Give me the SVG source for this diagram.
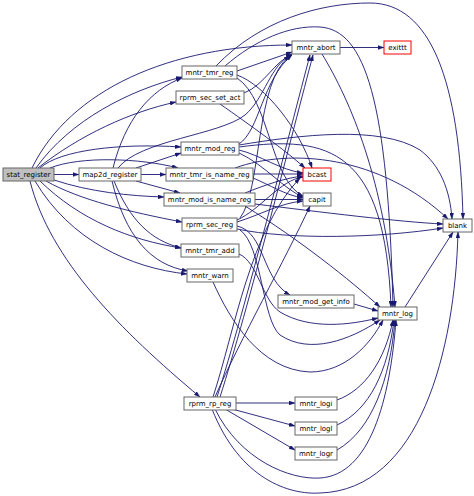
<svg xmlns="http://www.w3.org/2000/svg" width="474" height="496" viewBox="0 0 474 496">
<style>
.n rect{fill:#fff;stroke:#666;stroke-width:1}
.n.r rect{stroke:#ff0000}
.n.g rect{fill:#bfbfbf}
.n text{font-family:"DejaVu Sans","Liberation Sans",sans-serif;font-size:7px;text-anchor:middle;fill:#000}
.e path{fill:none;stroke:#191970;stroke-width:0.9;marker-end:url(#ah)}
</style>
<defs>
<marker id="ah" viewBox="0 0 10 7" refX="10" refY="3.5" markerWidth="6" markerHeight="4.2" markerUnits="userSpaceOnUse" orient="auto">
<path d="M0,0 L10,3.5 L0,7 z" fill="#191970" stroke="#191970" stroke-width="0.5"/>
</marker>
</defs>
<rect width="474" height="496" fill="#fff"/>
<g id="edges" class="e">
<path d="M54,174.5 L79,174.5"/>
<path d="M32,168 C70,90 170,45 292,45"/>
<path d="M36,168 C70,120 130,90 182,77"/>
<path d="M38,168 C80,135 130,112 176,102"/>
<path d="M40,168 C60,150 120,143 181,147"/>
<path d="M50,168 C80,156 140,158 178,168"/>
<path d="M54,180 C90,192 130,196 164,197"/>
<path d="M46,181 C80,200 130,212 182,222"/>
<path d="M40,181 C80,220 130,240 181,248"/>
<path d="M35,181 C70,240 130,268 187,274"/>
<path d="M30,181 C50,260 120,330 200,397"/>
<path d="M113,168 C125,120 150,90 182,78"/>
<path d="M118,168 C140,140 220,135 245,115 C265,98 270,65 292,54"/>
<path d="M136,168 L181,153"/>
<path d="M141,174.5 L166,174.5"/>
<path d="M136,181 L180,193"/>
<path d="M114,181 C130,220 150,240 181,248"/>
<path d="M112,181 C125,235 150,265 188,271"/>
<path d="M340,47.5 L384,47.5"/>
<path d="M322,54 C350,100 385,180 395,307"/>
<path d="M237,71 L292,52"/>
<path d="M216,66 C260,20 320,3 370,3 C430,3 460,80 463,219"/>
<path d="M225,66 C255,40 290,25 320,27 C365,30 388,100 393,307"/>
<path d="M237,75 C265,85 300,130 312,168"/>
<path d="M237,78 C270,100 270,180 303,196"/>
<path d="M244,93 C265,85 275,60 292,55"/>
<path d="M220,104 C250,125 285,150 305,168"/>
<path d="M239,144 C260,130 262,80 292,55"/>
<path d="M239,150 C260,155 280,170 303,173"/>
<path d="M239,153 C265,165 285,190 303,197"/>
<path d="M239,145 C300,135 380,125 420,150 C440,165 450,190 452,219"/>
<path d="M239,147 C330,135 385,150 391,307"/>
<path d="M253,174 L303,174"/>
<path d="M253,178 C270,185 285,195 303,198"/>
<path d="M235,168 C290,148 380,155 448,219"/>
<path d="M255,199.5 L303,199.5"/>
<path d="M245,193 C265,185 285,178 303,176"/>
<path d="M255,204 C320,212 400,222 443,224"/>
<path d="M245,206 C300,240 350,280 380,307"/>
<path d="M237,220 C260,210 280,180 303,177"/>
<path d="M237,222 C260,215 280,203 303,201"/>
<path d="M237,229 C290,240 380,238 443,228"/>
<path d="M237,226 C265,232 262,280 290,295"/>
<path d="M240,230 C262,245 262,320 280,335 C310,355 350,340 380,320"/>
<path d="M240,218 C262,190 255,80 290,56"/>
<path d="M239,254 C258,262 262,300 280,312 C310,330 350,325 378,318"/>
<path d="M213,282 C230,320 260,370 310,372 C345,372 370,345 383,320"/>
<path d="M354,304 L378,311"/>
<path d="M405,307 L453,232"/>
<path d="M236,403 L295,403"/>
<path d="M232,409 L295,426"/>
<path d="M225,409 L295,450"/>
<path d="M215,409 C240,460 290,480 320,478 C370,475 390,400 396,320"/>
<path d="M212,409 C240,480 290,495 320,493 C420,490 455,350 458,232"/>
<path d="M215,397 C240,340 285,260 310,206"/>
<path d="M213,397 C235,330 250,230 300,178"/>
<path d="M217,397 C245,310 290,130 310,55"/>
<path d="M220,397 C248,310 293,130 313,55"/>
<path d="M337,400 C365,390 385,360 393,320"/>
<path d="M337,425 C370,410 388,370 394,320"/>
<path d="M337,450 C372,430 390,380 395,320"/>
</g>
<g id="stat_register" class="n g"><rect x="3" y="168" width="51" height="13"/><text x="28.5" y="177">stat_register</text></g>
<g id="map2d_register" class="n"><rect x="79" y="168" width="62" height="13"/><text x="110" y="177">map2d_register</text></g>
<g id="mntr_abort" class="n"><rect x="292" y="41" width="48" height="13"/><text x="316" y="50">mntr_abort</text></g>
<g id="exittt" class="n r"><rect x="384" y="41" width="27" height="13"/><text x="397.5" y="50">exittt</text></g>
<g id="mntr_tmr_reg" class="n"><rect x="182" y="66" width="55" height="13"/><text x="209.5" y="75">mntr_tmr_reg</text></g>
<g id="rprm_sec_set_act" class="n"><rect x="176" y="91" width="68" height="13"/><text x="210" y="100">rprm_sec_set_act</text></g>
<g id="mntr_mod_reg" class="n"><rect x="181" y="142" width="58" height="13"/><text x="210" y="151">mntr_mod_reg</text></g>
<g id="mntr_tmr_is_name_reg" class="n"><rect x="166" y="168" width="87" height="13"/><text x="209.5" y="177">mntr_tmr_is_name_reg</text></g>
<g id="mntr_mod_is_name_reg" class="n"><rect x="164" y="193" width="91" height="13"/><text x="209.5" y="202">mntr_mod_is_name_reg</text></g>
<g id="bcast" class="n r"><rect x="303" y="168" width="28" height="13"/><text x="317" y="177">bcast</text></g>
<g id="capit" class="n"><rect x="303" y="193" width="28" height="13"/><text x="317" y="202">capit</text></g>
<g id="rprm_sec_reg" class="n"><rect x="182" y="218" width="55" height="13"/><text x="209.5" y="227">rprm_sec_reg</text></g>
<g id="blank" class="n"><rect x="443" y="219" width="29" height="13"/><text x="457.5" y="228">blank</text></g>
<g id="mntr_tmr_add" class="n"><rect x="181" y="244" width="58" height="13"/><text x="210" y="253">mntr_tmr_add</text></g>
<g id="mntr_warn" class="n"><rect x="187" y="269" width="46" height="13"/><text x="210" y="278">mntr_warn</text></g>
<g id="mntr_mod_get_info" class="n"><rect x="278" y="295" width="76" height="13"/><text x="316" y="304">mntr_mod_get_info</text></g>
<g id="mntr_log" class="n"><rect x="378" y="307" width="39" height="13"/><text x="397.5" y="316">mntr_log</text></g>
<g id="rprm_rp_reg" class="n"><rect x="184" y="397" width="52" height="13"/><text x="210" y="406">rprm_rp_reg</text></g>
<g id="mntr_logi" class="n"><rect x="295" y="397" width="42" height="13"/><text x="316" y="406">mntr_logi</text></g>
<g id="mntr_logl" class="n"><rect x="295" y="422" width="42" height="13"/><text x="316" y="431">mntr_logl</text></g>
<g id="mntr_logr" class="n"><rect x="295" y="447" width="42" height="13"/><text x="316" y="456">mntr_logr</text></g>
</svg>
